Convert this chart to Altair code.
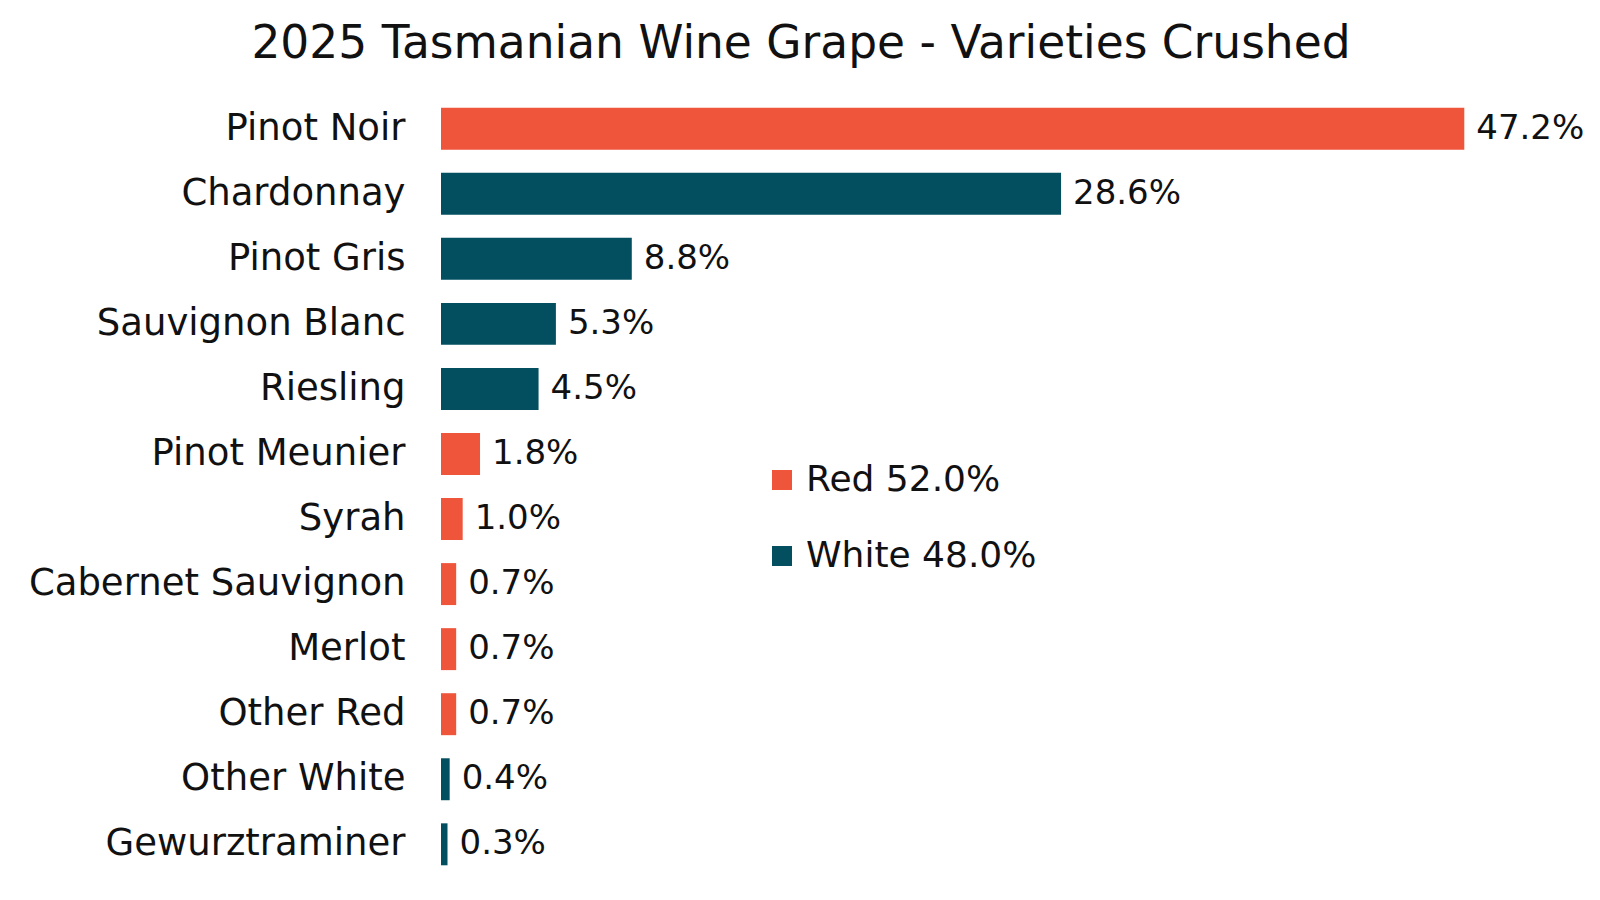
import altair as alt
import pandas as pd

varieties = ["Pinot Noir", "Chardonnay", "Pinot Gris", "Sauvignon Blanc", "Riesling",
             "Pinot Meunier", "Syrah", "Cabernet Sauvignon", "Merlot", "Other Red",
             "Other White", "Gewurztraminer"]
shares = [47.2, 28.6, 8.8, 5.3, 4.5, 1.8, 1.0, 0.7, 0.7, 0.7, 0.4, 0.3]
kinds = ["Red", "White", "White", "White", "White", "Red", "Red", "Red", "Red", "Red",
         "White", "White"]
legend_labels = {"Red": "Red 52.0%", "White": "White 48.0%"}
colors = ["#EE553B", "#034F60"]

df = pd.DataFrame({
    "variety": varieties,
    "share": shares,
    "kind": [legend_labels[k] for k in kinds],
    "label": [f"{v:.1f}%" for v in shares],
})

FONT = "DejaVu Sans"

y = alt.Y("variety:N", sort=varieties, title=None,
          scale=alt.Scale(paddingInner=0.355, paddingOuter=0.18),
          axis=alt.Axis(domain=False, ticks=False, labelFontSize=37, labelPadding=36,
                        labelColor="#111111", labelFont=FONT, labelLimit=0))
x = alt.X("share:Q", title=None, axis=None, scale=alt.Scale(domain=[0, 50], nice=False))

bars = alt.Chart(df).mark_bar().encode(
    x=x, y=y,
    color=alt.Color("kind:N", title=None,
                    scale=alt.Scale(domain=["Red 52.0%", "White 48.0%"], range=colors),
                    legend=alt.Legend(orient="none", legendX=323, legendY=366,
                                      symbolType="square", symbolSize=400,
                                      symbolStrokeWidth=0, labelLimit=0,
                                      labelFontSize=36, labelFont=FONT, labelColor="#111111",
                                      rowPadding=40, labelOffset=6, padding=0)),
)

texts = alt.Chart(df).mark_text(align="left", baseline="middle", dx=12, fontSize=34,
                                font=FONT, color="#111111").encode(
    x=x, y=y, text="label:N")

chart = (bars + texts).properties(
    width=1084, height=781,
    padding={"left": 441, "top": 96, "right": 75, "bottom": 23},
    autosize=alt.AutoSizeParams(type="none"),
    title=alt.TitleParams("2025 Tasmanian Wine Grape - Varieties Crushed",
                          fontSize=45.5, font=FONT, fontWeight="normal", color="#111111",
                          anchor="middle", frame="group", dx=-182, offset=29),
).configure_view(stroke=None)

chart.save("out.html", embed_options={"renderer": "svg", "actions": False})
